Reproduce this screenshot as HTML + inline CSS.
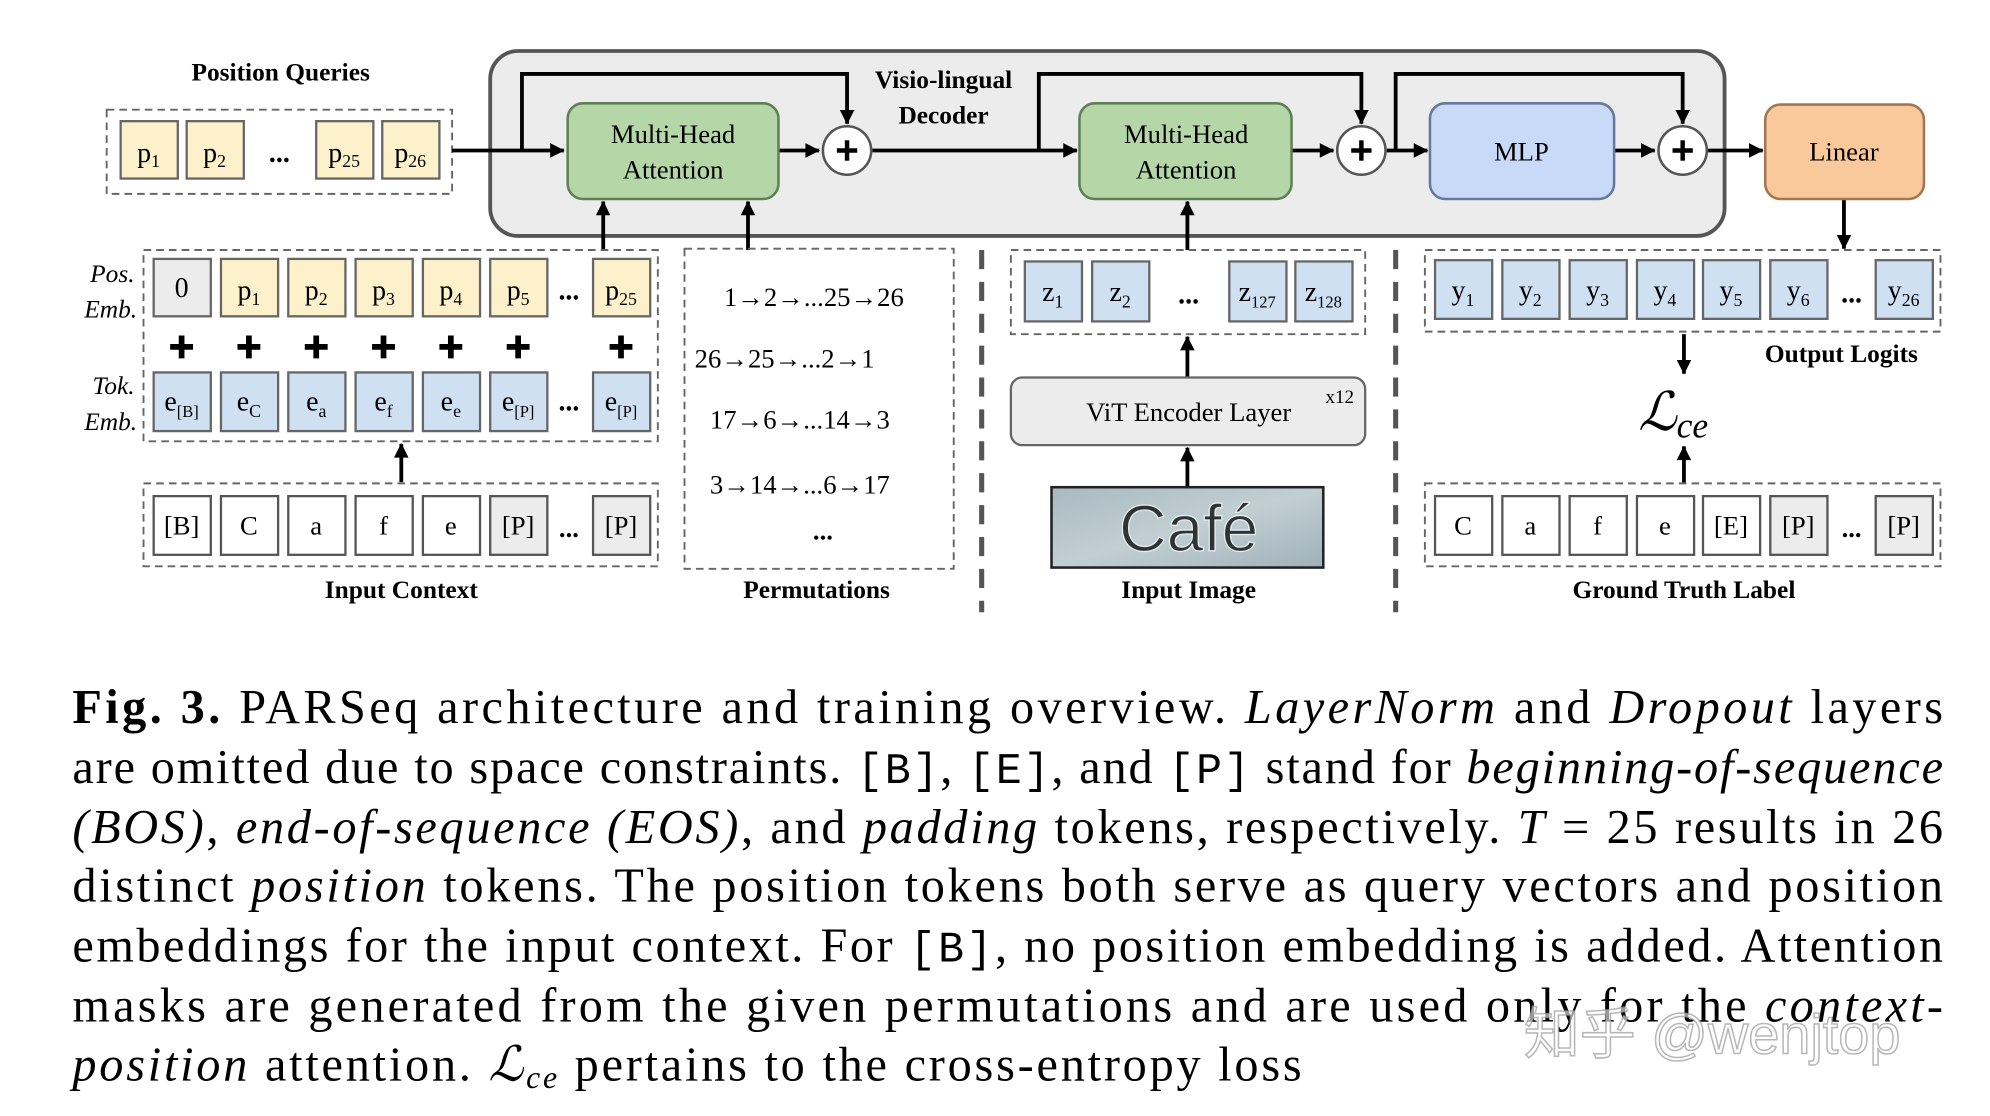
<!DOCTYPE html>
<html><head><meta charset="utf-8"><style>
html,body{margin:0;padding:0;background:#fff;}
svg{display:block;}
.s{font-family:"Liberation Serif",serif;}
.b{font-weight:bold;}
.i{font-style:italic;}
.m{font-family:"Liberation Mono",monospace;}
</style></head><body>
<svg width="1990" height="1116" viewBox="0 0 1567 875" preserveAspectRatio="none" xmlns="http://www.w3.org/2000/svg">
<defs>
<marker id="ah" viewBox="0 0 10 10" refX="9" refY="5" markerWidth="6" markerHeight="6" markerUnits="userSpaceOnUse" orient="auto" style="overflow:visible">
<path d="M0,0 L10,5 L0,10 z" fill="#000" transform="scale(1.9) translate(-4.7,-2.4)"/>
</marker>
<linearGradient id="img" x1="0" y1="0" x2="1" y2="1"><stop offset="0" stop-color="#a9b9bf"/><stop offset="0.5" stop-color="#c1cfd3"/><stop offset="1" stop-color="#9fb1b8"/></linearGradient>
</defs>
<g class="s" fill="#000">

<text x="221" y="63" font-size="20" class="b" text-anchor="middle">Position Queries</text>
<rect x="84" y="86" width="272" height="66" fill="none" stroke="#666" stroke-width="1.5" stroke-dasharray="6,4"/>
<g stroke="#666" stroke-width="1.8" fill="#fdf1cc">
<rect x="95" y="95" width="45" height="45"/><rect x="147" y="95" width="45" height="45"/>
<rect x="249" y="95" width="45" height="45"/><rect x="301" y="95" width="45" height="45"/>
</g>
<g font-size="22" text-anchor="middle">
<text x="117" y="127">p<tspan font-size="14" dy="4">1</tspan></text>
<text x="169" y="127">p<tspan font-size="14" dy="4">2</tspan></text>
<text x="220" y="127" class="b">...</text>
<text x="271" y="127">p<tspan font-size="14" dy="4">25</tspan></text>
<text x="323" y="127">p<tspan font-size="14" dy="4">26</tspan></text>
</g>

<rect x="386" y="40" width="972" height="145" rx="22" fill="#ececec" stroke="#555" stroke-width="3"/>
<text x="743" y="69" font-size="20" class="b" text-anchor="middle">Visio-lingual</text>
<text x="743" y="97" font-size="20" class="b" text-anchor="middle">Decoder</text>

<g stroke="#000" stroke-width="3" fill="none">
<line x1="356" y1="118" x2="444" y2="118" marker-end="url(#ah)"/>
<polyline points="411,118 411,58 667,58 667,97" marker-end="url(#ah)"/>
<line x1="613" y1="118" x2="645" y2="118" marker-end="url(#ah)"/>
<line x1="687" y1="118" x2="848" y2="118" marker-end="url(#ah)"/>
<polyline points="818,118 818,58 1072,58 1072,97" marker-end="url(#ah)"/>
<line x1="1017" y1="118" x2="1050" y2="118" marker-end="url(#ah)"/>
<line x1="1092" y1="118" x2="1124" y2="118" marker-end="url(#ah)"/>
<polyline points="1099,118 1099,58 1325,58 1325,97" marker-end="url(#ah)"/>
<line x1="1271" y1="118" x2="1303" y2="118" marker-end="url(#ah)"/>
<line x1="1345" y1="118" x2="1388" y2="118" marker-end="url(#ah)"/>
<line x1="1452" y1="156" x2="1452" y2="195" marker-end="url(#ah)"/>
<line x1="475" y1="196" x2="475" y2="158" marker-end="url(#ah)"/>
<line x1="589" y1="196" x2="589" y2="158" marker-end="url(#ah)"/>
<line x1="935" y1="196" x2="935" y2="158" marker-end="url(#ah)"/>
<line x1="316" y1="378" x2="316" y2="348" marker-end="url(#ah)"/>
<line x1="935" y1="296" x2="935" y2="264" marker-end="url(#ah)"/>
<line x1="935" y1="382" x2="935" y2="351" marker-end="url(#ah)"/>
<line x1="1326" y1="262" x2="1326" y2="293" marker-end="url(#ah)"/>
<line x1="1326" y1="379" x2="1326" y2="350" marker-end="url(#ah)"/>
</g>

<rect x="447" y="81" width="166" height="75" rx="12" fill="#b5d7a8" stroke="#5f7f55" stroke-width="2"/>
<rect x="850" y="81" width="167" height="75" rx="12" fill="#b5d7a8" stroke="#5f7f55" stroke-width="2"/>
<rect x="1126" y="81" width="145" height="75" rx="12" fill="#c9daf8" stroke="#66789c" stroke-width="2"/>
<rect x="1390" y="82" width="125" height="74" rx="12" fill="#f9c89b" stroke="#a4764f" stroke-width="2"/>
<g font-size="21" text-anchor="middle">
<text x="530" y="112">Multi-Head</text><text x="530" y="140">Attention</text>
<text x="934" y="112">Multi-Head</text><text x="934" y="140">Attention</text>
<text x="1198" y="126">MLP</text>
<text x="1452" y="126">Linear</text>
</g>
<g fill="#fff" stroke="#555" stroke-width="2">
<circle cx="667" cy="118" r="19"/><circle cx="1072" cy="118" r="19"/><circle cx="1325" cy="118" r="19"/>
</g>
<g stroke="#000" stroke-width="3.5">
<line x1="659" y1="118" x2="675" y2="118"/><line x1="667" y1="110" x2="667" y2="126"/>
<line x1="1064" y1="118" x2="1080" y2="118"/><line x1="1072" y1="110" x2="1072" y2="126"/>
<line x1="1317" y1="118" x2="1333" y2="118"/><line x1="1325" y1="110" x2="1325" y2="126"/>
</g>

<g font-size="20" class="i" text-anchor="end">
<text x="106" y="221">Pos.</text><text x="108" y="249">Emb.</text>
<text x="106" y="309">Tok.</text><text x="108" y="337">Emb.</text>
</g>
<rect x="113" y="196" width="405" height="150" fill="none" stroke="#666" stroke-width="1.5" stroke-dasharray="6,4"/>
<g stroke="#666" stroke-width="1.8">
<rect x="121" y="203" width="45" height="45" fill="#ececec"/>
<rect x="174" y="203" width="45" height="45" fill="#fdf1cc"/><rect x="227" y="203" width="45" height="45" fill="#fdf1cc"/>
<rect x="280" y="203" width="45" height="45" fill="#fdf1cc"/><rect x="333" y="203" width="45" height="45" fill="#fdf1cc"/>
<rect x="386" y="203" width="45" height="45" fill="#fdf1cc"/><rect x="467" y="203" width="45" height="45" fill="#fdf1cc"/>
<g fill="#cfe0f3">
<rect x="121" y="292" width="45" height="46"/><rect x="174" y="292" width="45" height="46"/><rect x="227" y="292" width="45" height="46"/>
<rect x="280" y="292" width="45" height="46"/><rect x="333" y="292" width="45" height="46"/><rect x="386" y="292" width="45" height="46"/>
<rect x="467" y="292" width="45" height="46"/>
</g>
</g>
<g font-size="22" text-anchor="middle">
<text x="143" y="233">0</text>
<text x="196" y="235">p<tspan font-size="14" dy="4">1</tspan></text>
<text x="249" y="235">p<tspan font-size="14" dy="4">2</tspan></text>
<text x="302" y="235">p<tspan font-size="14" dy="4">3</tspan></text>
<text x="355" y="235">p<tspan font-size="14" dy="4">4</tspan></text>
<text x="408" y="235">p<tspan font-size="14" dy="4">5</tspan></text>
<text x="448" y="235" class="b">...</text>
<text x="489" y="235">p<tspan font-size="14" dy="4">25</tspan></text>
<text x="143" y="322">e<tspan font-size="13" dy="5">[B]</tspan></text>
<text x="196" y="322">e<tspan font-size="14" dy="5">C</tspan></text>
<text x="249" y="322">e<tspan font-size="14" dy="5">a</tspan></text>
<text x="302" y="322">e<tspan font-size="14" dy="5">f</tspan></text>
<text x="355" y="322">e<tspan font-size="14" dy="5">e</tspan></text>
<text x="408" y="322">e<tspan font-size="13" dy="5">[P]</tspan></text>
<text x="448" y="322" class="b">...</text>
<text x="489" y="322">e<tspan font-size="13" dy="5">[P]</tspan></text>
</g>
<g stroke="#000" stroke-width="4.5">
<path d="M134,272h18M143,263v18M187,272h18M196,263v18M240,272h18M249,263v18M293,272h18M302,263v18M346,272h18M355,263v18M399,272h18M408,263v18M480,272h18M489,263v18"/>
</g>

<rect x="113" y="379" width="405" height="65" fill="none" stroke="#666" stroke-width="1.5" stroke-dasharray="6,4"/>
<g stroke="#555" stroke-width="1.8" fill="#fff">
<rect x="121" y="389" width="45" height="46"/><rect x="174" y="389" width="45" height="46"/><rect x="227" y="389" width="45" height="46"/>
<rect x="280" y="389" width="45" height="46"/><rect x="333" y="389" width="45" height="46"/>
<rect x="386" y="389" width="45" height="46" fill="#ececec"/><rect x="467" y="389" width="45" height="46" fill="#ececec"/>
</g>
<g font-size="21" text-anchor="middle">
<text x="143" y="419">[B]</text><text x="196" y="419">C</text><text x="249" y="419">a</text><text x="302" y="419">f</text>
<text x="355" y="419">e</text><text x="408" y="419">[P]</text><text x="448" y="421" class="b">...</text><text x="489" y="419">[P]</text>
</g>
<text x="316" y="469" font-size="20" class="b" text-anchor="middle">Input Context</text>

<rect x="539" y="195" width="212" height="251" fill="none" stroke="#666" stroke-width="1.5" stroke-dasharray="6,4"/>
<g font-size="21">
<text x="570" y="240">1→2→...25→26</text>
<text x="547" y="288">26→25→...2→1</text>
<text x="559" y="336">17→6→...14→3</text>
<text x="559" y="387">3→14→...6→17</text>
<text x="648" y="423" class="b" text-anchor="middle">...</text>
</g>
<text x="643" y="469" font-size="20" class="b" text-anchor="middle">Permutations</text>

<g stroke="#555" stroke-width="4" stroke-dasharray="15,10">
<line x1="773" y1="196" x2="773" y2="480"/><line x1="1099" y1="196" x2="1099" y2="480"/>
</g>

<rect x="796" y="196" width="279" height="66" fill="none" stroke="#666" stroke-width="1.5" stroke-dasharray="6,4"/>
<g stroke="#666" stroke-width="1.8" fill="#cfe0f3">
<rect x="807" y="205" width="45" height="47"/><rect x="860" y="205" width="45" height="47"/>
<rect x="968" y="205" width="45" height="47"/><rect x="1020" y="205" width="45" height="47"/>
</g>
<g font-size="22" text-anchor="middle">
<text x="829" y="236">z<tspan font-size="14" dy="5">1</tspan></text>
<text x="882" y="236">z<tspan font-size="14" dy="5">2</tspan></text>
<text x="936" y="238" class="b">...</text>
<text x="990" y="236">z<tspan font-size="13" dy="5">127</tspan></text>
<text x="1042" y="236">z<tspan font-size="13" dy="5">128</tspan></text>
</g>
<rect x="796" y="296" width="279" height="53" rx="9" fill="#ececec" stroke="#666" stroke-width="1.8"/>
<text x="936" y="330" font-size="21" text-anchor="middle">ViT Encoder Layer</text>
<text x="1055" y="316" font-size="15" text-anchor="middle">x12</text>
<rect x="828" y="382" width="214" height="63" fill="url(#img)" stroke="#222" stroke-width="2"/>
<text x="936" y="432" font-family="Liberation Sans,sans-serif" font-size="52" fill="#2e3336" stroke="#e8eef0" stroke-width="1" text-anchor="middle">Café</text>
<text x="936" y="469" font-size="20" class="b" text-anchor="middle">Input Image</text>

<rect x="1122" y="196" width="406" height="64" fill="none" stroke="#666" stroke-width="1.5" stroke-dasharray="6,4"/>
<g stroke="#666" stroke-width="1.8" fill="#cfe0f3">
<rect x="1130" y="204" width="45" height="46"/><rect x="1183" y="204" width="45" height="46"/><rect x="1236" y="204" width="45" height="46"/>
<rect x="1289" y="204" width="45" height="46"/><rect x="1341" y="204" width="45" height="46"/><rect x="1394" y="204" width="45" height="46"/>
<rect x="1477" y="204" width="45" height="46"/>
</g>
<g font-size="22" text-anchor="middle">
<text x="1152" y="235">y<tspan font-size="14" dy="5">1</tspan></text>
<text x="1205" y="235">y<tspan font-size="14" dy="5">2</tspan></text>
<text x="1258" y="235">y<tspan font-size="14" dy="5">3</tspan></text>
<text x="1311" y="235">y<tspan font-size="14" dy="5">4</tspan></text>
<text x="1363" y="235">y<tspan font-size="14" dy="5">5</tspan></text>
<text x="1416" y="235">y<tspan font-size="14" dy="5">6</tspan></text>
<text x="1458" y="237" class="b">...</text>
<text x="1499" y="235">y<tspan font-size="14" dy="5">26</tspan></text>
</g>
<text x="1450" y="284" font-size="20" class="b" text-anchor="middle">Output Logits</text>
<text x="1290" y="337" font-size="42" class="i">ℒ<tspan font-size="28" dy="6">ce</tspan></text>

<rect x="1122" y="379" width="406" height="65" fill="none" stroke="#666" stroke-width="1.5" stroke-dasharray="6,4"/>
<g stroke="#555" stroke-width="1.8" fill="#fff">
<rect x="1130" y="389" width="45" height="46"/><rect x="1183" y="389" width="45" height="46"/><rect x="1236" y="389" width="45" height="46"/>
<rect x="1289" y="389" width="45" height="46"/><rect x="1341" y="389" width="45" height="46"/>
<rect x="1394" y="389" width="45" height="46" fill="#ececec"/><rect x="1477" y="389" width="45" height="46" fill="#ececec"/>
</g>
<g font-size="21" text-anchor="middle">
<text x="1152" y="419">C</text><text x="1205" y="419">a</text><text x="1258" y="419">f</text><text x="1311" y="419">e</text>
<text x="1363" y="419">[E]</text><text x="1416" y="419">[P]</text><text x="1458" y="421" class="b">...</text><text x="1499" y="419">[P]</text>
</g>
<text x="1326" y="469" font-size="20" class="b" text-anchor="middle">Ground Truth Label</text>

<g font-size="38">
<text x="57" y="567" textLength="1473" lengthAdjust="spacing"><tspan class="b">Fig. 3.</tspan> PARSeq architecture and training overview. <tspan class="i">LayerNorm</tspan> and <tspan class="i">Dropout</tspan> layers</text>
<text x="57" y="614" textLength="1473" lengthAdjust="spacing">are omitted due to space constraints. <tspan class="m" font-size="34">[B]</tspan>, <tspan class="m" font-size="34">[E]</tspan>, and <tspan class="m" font-size="34">[P]</tspan> stand for <tspan class="i">beginning-of-sequence</tspan></text>
<text x="57" y="661" textLength="1473" lengthAdjust="spacing"><tspan class="i">(BOS)</tspan>, <tspan class="i">end-of-sequence (EOS)</tspan>, and <tspan class="i">padding</tspan> tokens, respectively. <tspan class="i">T</tspan> = 25 results in 26</text>
<text x="57" y="707" textLength="1473" lengthAdjust="spacing">distinct <tspan class="i">position</tspan> tokens. The position tokens both serve as query vectors and position</text>
<text x="57" y="754" textLength="1473" lengthAdjust="spacing">embeddings for the input context. For <tspan class="m" font-size="34">[B]</tspan>, no position embedding is added. Attention</text>
<text x="57" y="801" textLength="1473" lengthAdjust="spacing">masks are generated from the given permutations and are used only for the <tspan class="i">context-</tspan></text>
<text x="57" y="847" textLength="968" lengthAdjust="spacing"><tspan class="i">position</tspan> attention. <tspan class="i">ℒ</tspan><tspan class="i" font-size="25" dy="6">ce</tspan><tspan dy="-6"> pertains to the cross-entropy loss</tspan></text>
</g>
<text x="1200" y="826" font-family="'Liberation Sans','Noto Sans CJK SC',sans-serif" font-size="44" fill="#fff" fill-opacity="0.6" stroke="#999" stroke-width="1.2" stroke-opacity="0.7">知乎 @wenjtop</text>
</g>
</svg>
</body></html>
